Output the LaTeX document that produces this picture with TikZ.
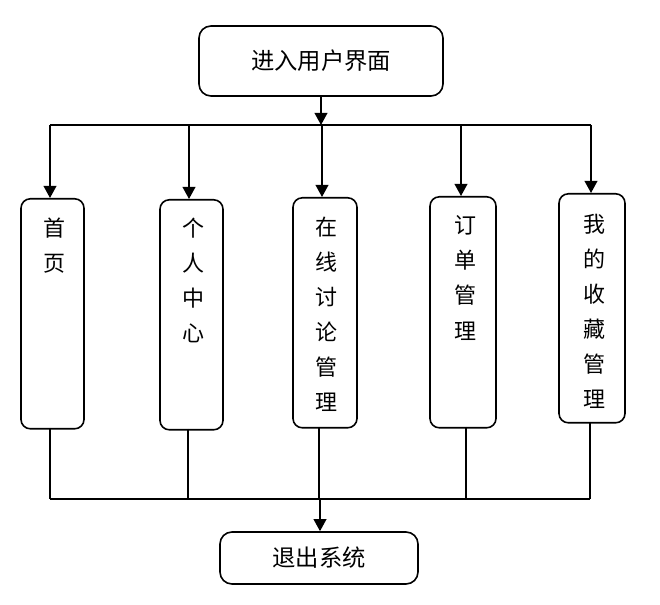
\documentclass[tikz,border=0pt]{standalone}
\usepackage{fontspec}
\newfontfamily\cjk{Noto Sans CJK SC}
\usetikzlibrary{arrows.meta}
\begin{document}
\begin{tikzpicture}[x=0.75pt,y=-0.75pt,
  line width=1.2pt,
  hbox/.style={draw, rounded corners=9pt, font=\fontsize{17.5}{20}\cjk, inner sep=0pt},
  vbox/.style={draw, rounded corners=7pt, inner sep=0pt, anchor=north},
  vtext/.style={anchor=north, align=center, inner sep=0pt, font=\fontsize{16.5}{26.3}\selectfont\cjk},
  arr/.style={-{Triangle[length=9pt,width=9.5pt]}}]
\useasboundingbox (0,0) rectangle (660,605);
% top and bottom boxes
\node[hbox, minimum width=244*0.75pt, minimum height=70*0.75pt] (top) at (321,61) {进入用户界面};
\node[hbox, minimum width=198*0.75pt, minimum height=52*0.75pt] (exit) at (319,558) {退出系统};
% vertical boxes
\node[vbox, minimum width=63*0.75pt, minimum height=230*0.75pt] (b1) at (52.5,198) {};
\node[vbox, minimum width=63*0.75pt, minimum height=230*0.75pt] (b2) at (191.5,199) {};
\node[vbox, minimum width=64*0.75pt, minimum height=230*0.75pt] (b3) at (325,197) {};
\node[vbox, minimum width=66*0.75pt, minimum height=231*0.75pt] (b4) at (463,196) {};
\node[vbox, minimum width=66*0.75pt, minimum height=229*0.75pt] (b5) at (592,193) {};
\node[vtext] (t1) at (54,217) {首\\页};
\node[vtext] (t2) at (193,217) {个\\人\\中\\心};
\node[vtext] (t3) at (326,216) {在\\线\\讨\\论\\管\\理};
\node[vtext] (t4) at (465,215) {订\\单\\管\\理};
\node[vtext] (t5) at (594,213) {我\\的\\收\\藏\\管\\理};
% top bus
\coordinate (busL) at (50,125);
\coordinate (busR) at (591,125);
\coordinate (busM) at (321,125);
\draw[arr] (top.south) -- (busM);
\draw (busL) -- (busR);
\draw[arr] (busL) -- (busL |- b1.north);
\draw[arr] (189,125) -- (189,199);
\draw[arr] (322,125) -- (322,197);
\draw[arr] (461,125) -- (461,196);
\draw[arr] (busR) -- (busR |- b5.north);
% bottom bus
\coordinate (bL) at (50,499);
\coordinate (bR) at (590,499);
\coordinate (bM) at (320,499);
\draw (50,428) -- (bL);
\draw (188,429) -- (188,499);
\draw (319,427) -- (319,499);
\draw (466,427) -- (466,499);
\draw (590,422) -- (bR);
\draw (bL) -- (bR);
\draw[arr] (bM) -- (exit.north -| bM);
\end{tikzpicture}
\end{document}
